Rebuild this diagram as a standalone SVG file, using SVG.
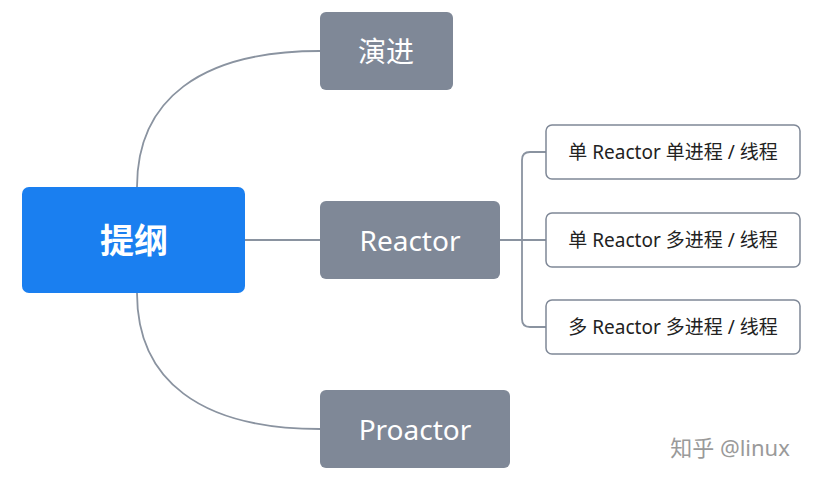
<svg xmlns="http://www.w3.org/2000/svg" width="821" height="481" viewBox="0 0 821 481">
<style>
.g{fill:#7f8897}
.w{fill:#fff;font-family:"Noto Sans","Noto Sans CJK SC",sans-serif;text-anchor:middle;dominant-baseline:central}
.leaf{fill:#fff;stroke:#7f8897;stroke-width:1.5}
.lt{fill:#222;font-family:"Noto Sans","Noto Sans CJK SC",sans-serif;font-size:19px;text-anchor:middle;dominant-baseline:central}
.c{fill:none;stroke:#8a93a0;stroke-width:1.8}
</style>
<rect width="821" height="481" fill="#fff"/>
<g id="connectors">
<path class="c" d="M137,187 C137,100 200,51 320,51"/>
<path class="c" d="M137,293 C137,380 200,429 320,429"/>
<path class="c" d="M245,240 H320"/>
<path class="c" d="M500,240 H546"/>
<path class="c" d="M546,152 H530 Q522,152 522,160 V319 Q522,327 530,327 H546"/>
</g>
<g id="root"><rect x="22" y="187" width="223" height="106" rx="7" fill="#1a7ff0"/><text class="w" x="134" y="240" font-size="34" font-weight="bold">提纲</text></g>
<g id="yanjin"><rect class="g" x="320" y="12" width="133" height="78" rx="6"/><text class="w" x="386" y="51" font-size="28">演进</text></g>
<g id="reactor"><rect class="g" x="320" y="201" width="180" height="78" rx="6"/><text class="w" x="410" y="240" font-size="28">Reactor</text></g>
<g id="proactor"><rect class="g" x="320" y="390" width="190" height="78" rx="6"/><text class="w" x="415" y="429" font-size="28">Proactor</text></g>
<g id="leaf1"><rect class="leaf" x="546" y="125" width="254" height="54" rx="6"/><text class="lt" x="673" y="152">单 Reactor 单进程 / 线程</text></g>
<g id="leaf2"><rect class="leaf" x="546" y="213" width="254" height="54" rx="6"/><text class="lt" x="673" y="240">单 Reactor 多进程 / 线程</text></g>
<g id="leaf3"><rect class="leaf" x="546" y="300" width="254" height="54" rx="6"/><text class="lt" x="673" y="327">多 Reactor 多进程 / 线程</text></g>
<text x="730" y="447" fill="#9a9a9a" font-family="Noto Sans,Noto Sans CJK SC,sans-serif" font-size="22" text-anchor="middle" dominant-baseline="central">知乎 @linux</text>
</svg>
